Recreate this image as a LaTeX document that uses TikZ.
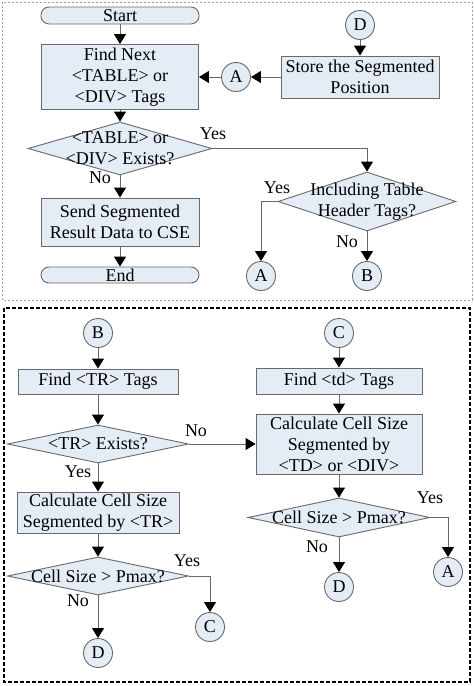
\documentclass[tikz,border=0pt]{standalone}
\usepackage{fontspec}
\setmainfont{Liberation Serif}
\usetikzlibrary{shapes.geometric,arrows.meta}
\definecolor{boxblue}{RGB}{228,236,246}
\definecolor{edgegray}{RGB}{105,105,105}
\begin{document}
\begin{tikzpicture}[x=1pt,y=-1pt,
  every node/.style={font=\fontsize{18}{21}\selectfont,inner sep=0pt},
  proc/.style={draw=edgegray,fill=boxblue,line width=0.9pt,align=center},
  term/.style={proc,rounded corners=8pt,minimum width=158pt,minimum height=17pt},
  decide/.style={draw=edgegray,fill=boxblue,line width=0.9pt,diamond},
  conn/.style={circle,draw=edgegray,fill=boxblue,line width=0.9pt,minimum size=29pt},
  arr/.style={draw=edgegray,line width=0.9pt,-{Triangle[length=10pt,width=12pt,color=black]}}]
\useasboundingbox (0,0) rectangle (474,686);
% frames
\draw[gray!75,line width=1pt,dash pattern=on 2pt off 2pt] (2,2) rectangle (472,300);
\draw[black,line width=2pt,dash pattern=on 4pt off 2pt] (4,308) rectangle (470,682);
% top part
\node[term] (start) at (120,15.5) {Start};
\node[proc,minimum width=157pt,minimum height=65pt] (findnext) at (120,77) {Find Next\\<TABLE> or\\<DIV> Tags};
\node[decide,minimum width=184pt,minimum height=53pt] (dexist) at (120,148.5) {};
\node[align=center] (dexisttxt) at (120,148.5) {<TABLE> or\\<DIV> Exists?};
\node[proc,minimum width=158pt,minimum height=48pt] (send) at (120,222) {Send Segmented\\Result Data to CSE};
\node[term,minimum height=16pt] (end) at (120,275) {End};
\node[conn] (dtop) at (360,25) {D};
\node[proc,minimum width=158pt,minimum height=42pt] (store) at (360,77) {Store the Segmented\\Position};
\node[conn] (afind) at (236,77) {A};
\node[decide,minimum width=178pt,minimum height=59pt] (dheader) at (367,201.5) {};
\node[align=center] (dheadertxt) at (367,201.5) {Including Table\\Header Tags?};
\node[conn] (ayes) at (261,276) {A};
\node[conn] (bno) at (367,276) {B};
\node (yes1) at (213,134) {Yes}; \node (no1) at (100,178) {No};
\node (yes2) at (277,188) {Yes}; \node (no2) at (347,242) {No};
\draw[arr] (start) -- (findnext);
\draw[arr] (findnext) -- (dexist);
\draw[arr] (dexist) -- (send);
\draw[arr] (send) -- (end);
\draw[arr] (dtop) -- (store);
\draw[arr] (store) -- (afind);
\draw[arr] (afind) -- (findnext);
\draw[arr] (dexist.east) -| (dheader.north);
\draw[arr] (dheader.west) -| (ayes.north);
\draw[arr] (dheader.south) -- (bno);
% bottom part, left
\node[conn] (btr) at (98,333) {B};
\node[proc,minimum width=160pt,minimum height=25pt] (findtr) at (98,381.5) {Find <TR> Tags};
\node[decide,minimum width=181pt,minimum height=38pt] (dtr) at (98,444) {};
\node (dtrtxt) at (98,444) {<TR> Exists?};
\node[proc,minimum width=162pt,minimum height=41pt] (calctr) at (98,512.5) {Calculate Cell Size\\Segmented by <TR>};
\node[decide,minimum width=181pt,minimum height=38pt] (dsizetr) at (98,576) {};
\node (dsizetrtxt) at (98,576) {Cell Size > Pmax?};
\node[conn] (cyes) at (210,627) {C};
\node[conn] (dno) at (98,653) {D};
\node (no3) at (196,431) {No}; \node (yes3) at (78,472) {Yes};
\node (yes4) at (187,561) {Yes}; \node (no4) at (78,601) {No};
% bottom part, right
\node[conn] (ctd) at (339,333) {C};
\node[proc,minimum width=166pt,minimum height=26pt] (findtd) at (339,381) {Find <td> Tags};
\node[proc,minimum width=166pt,minimum height=60pt] (calctd) at (339,444) {Calculate Cell Size\\Segmented by\\<TD> or <DIV>};
\node[decide,minimum width=182pt,minimum height=39pt] (dsizetd) at (339,517.5) {};
\node (dsizetdtxt) at (339,517.5) {Cell Size > Pmax?};
\node[conn] (atd) at (448,572) {A};
\node[conn] (dtd) at (339,587) {D};
\node (yes5) at (430,498) {Yes}; \node (no5) at (317,547) {No};
\draw[arr] (btr) -- (findtr);
\draw[arr] (findtr) -- (dtr);
\draw[arr] (dtr) -- (calctr);
\draw[arr] (dtr.east) -- (calctd.west);
\draw[arr] (calctr) -- (dsizetr);
\draw[arr] (dsizetr.east) -| (cyes.north);
\draw[arr] (dsizetr.south) -- (dno);
\draw[arr] (ctd) -- (findtd);
\draw[arr] (findtd) -- (calctd);
\draw[arr] (calctd) -- (dsizetd);
\draw[arr] (dsizetd.east) -| (atd.north);
\draw[arr] (dsizetd.south) -- (dtd);
\end{tikzpicture}
\end{document}
